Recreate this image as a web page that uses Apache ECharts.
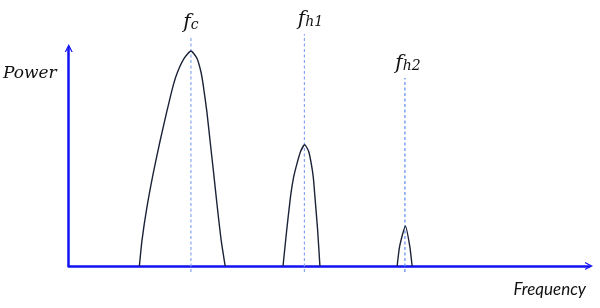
<!DOCTYPE html>
<html>
<head>
<meta charset="utf-8">
<script src="https://cdn.jsdelivr.net/npm/echarts@6/dist/echarts.min.js"></script>
<style>html,body{margin:0;padding:0;background:#fff}#c{width:600px;height:308px}</style>
</head>
<body>
<div id="c"></div>
<script>
// Spectrum peaks (frequency, power) in arbitrary units
const peakC_x  = [13.58, 14.09, 15.05, 16.26, 17.60, 18.85, 20.10, 20.94, 22.21, 23.49, 24.64, 25.41, 25.85, 26.55, 27.15, 27.85, 28.55, 29.30, 30.07];
const peakC_y  = [0, 11.9, 27.2, 42.7, 57.8, 70.8, 83.0, 89.1, 95.3, 98.6, 95.3, 89.1, 83.0, 70.8, 57.8, 42.7, 27.2, 11.9, 0];
const peakH1_x = [41.19, 41.90, 42.63, 43.20, 43.82, 44.58, 45.35, 46.11, 46.65, 47.02, 47.32, 47.84, 48.28];
const peakH1_y = [0, 16.5, 31.8, 40.4, 46.5, 52.6, 55.6, 52.6, 46.5, 40.4, 31.8, 16.5, 0];
const peakH2_x = [63.13, 63.62, 64.72, 65.54, 66.0];
const peakH2_y = [0, 9.2, 18.3, 9.2, 0];
// Marker lines (dashed) at the component frequencies
const markerFreq   = [23.49, 45.30, 64.62];
const markerTop    = [105.0, 106.4, 86.2];
const markerBottom = -2.75;
const markerSub    = ['c', 'h1', 'h2'];
const xAxisName = 'Frequency';
const yAxisName = 'Power';

const toPairs = (xs, ys) => xs.map((x, i) => [x, ys[i]]);
const chevron = 'path://M0,10 L5,0 L10,10 L8.4,10 L5,3.4 L1.6,10 Z';
const axisBlue = '#1212f2';
const labelOffsets = [[0, 0], [6, 0], [3, 0]];
const dashColors = ['#86a6f2', '#86a6f2', '#5c8df0'];

const series = [];
markerFreq.forEach((fx, i) => {
  series.push({
    type: 'line', silent: true, clip: false, symbol: 'circle', symbolSize: 0.5, showSymbol: true,
    z: 1,
    itemStyle: { color: dashColors[i] },
    lineStyle: { color: dashColors[i], width: 1.2, type: [3, 2.5] },
    data: [
      { value: [fx, markerBottom] },
      { value: [fx, markerTop[i]],
        label: {
          show: true, position: 'top', distance: 4, offset: labelOffsets[i],
          formatter: '{f|f}{s|' + markerSub[i] + '}',
          rich: {
            f: { fontFamily: 'DejaVu Serif', fontStyle: 'italic', fontSize: 20, color: '#111' },
            s: { fontFamily: 'DejaVu Serif', fontStyle: 'italic', fontSize: 14, color: '#111', verticalAlign: 'bottom', padding: [5, 0, 0, 0] }
          }
        } }
    ]
  });
});
[[peakC_x, peakC_y], [peakH1_x, peakH1_y], [peakH2_x, peakH2_y]].forEach(([xs, ys]) => {
  series.push({
    type: 'line', silent: true, symbol: 'none', smooth: 0.2, z: 3,
    lineStyle: { color: '#1b2238', width: 1.4 },
    data: toPairs(xs, ys)
  });
});

const chart = echarts.init(document.getElementById('c'), null, { renderer: 'canvas' });
chart.setOption({
  animation: false,
  backgroundColor: '#fff',
  grid: { left: 67.5, right: 11, top: 48, bottom: 42, containLabel: false },
  xAxis: {
    type: 'value', min: 0, max: 100,
    name: xAxisName, nameLocation: 'end', nameGap: -3,
    nameTextStyle: { fontFamily: 'Lato', fontStyle: 'italic', fontSize: 17, color: '#111', align: 'right', verticalAlign: 'top', padding: [15, 0, 0, 0] },
    axisLine: { onZero: true, lineStyle: { color: axisBlue, width: 2.5 }, symbol: ['none', chevron], symbolSize: [10, 8] },
    axisTick: { show: false }, axisLabel: { show: false }, splitLine: { show: false }
  },
  yAxis: {
    type: 'value', min: 0, max: 100,
    name: yAxisName, nameLocation: 'end', nameGap: -26,
    nameTextStyle: { fontFamily: 'DejaVu Serif', fontStyle: 'italic', fontSize: 17, color: '#111', align: 'right', verticalAlign: 'middle', padding: [0, 12, 0, 0] },
    axisLine: { onZero: true, lineStyle: { color: axisBlue, width: 2.5 }, symbol: ['none', chevron], symbolSize: [10, 8] },
    axisTick: { show: false }, axisLabel: { show: false }, splitLine: { show: false }
  },
  series: series
});
</script>
</body>
</html>
